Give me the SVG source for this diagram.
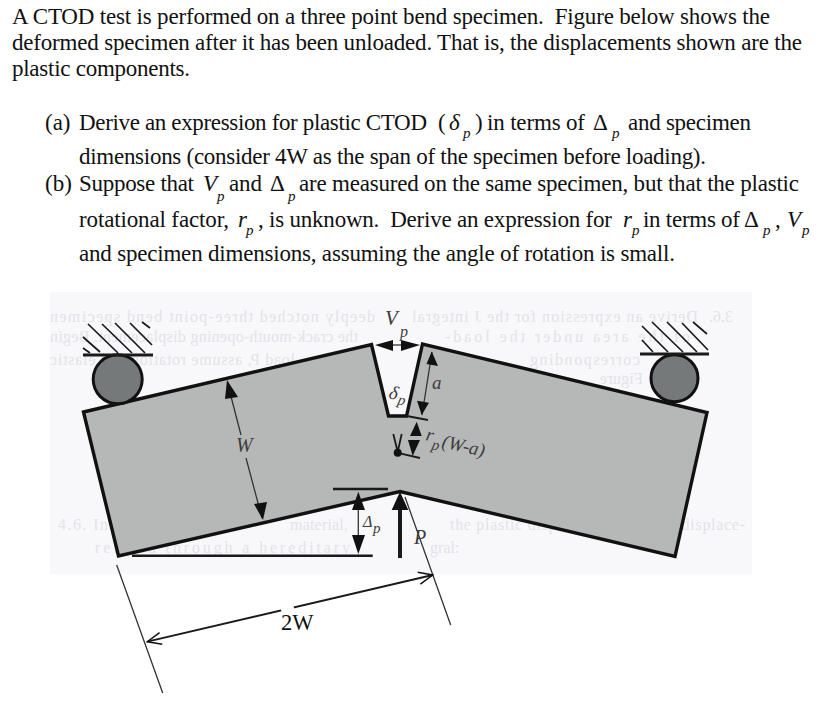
<svg xmlns="http://www.w3.org/2000/svg" width="837" height="722" viewBox="0 0 837 722">
<defs>
<marker id="open" markerWidth="16" markerHeight="14" refX="15" refY="7" orient="auto-start-reverse" markerUnits="userSpaceOnUse"><path d="M1 1L15 7L1 13" fill="none" stroke="#111" stroke-width="1.5"/></marker>
</defs>
<style>
text{font-family:"Liberation Serif","Times New Roman",serif;fill:#111}
.t{font-size:23px}
.s{font-size:15px;font-style:italic}
.i{font-style:italic}
.f{font-style:italic;fill:#3c3c3c}
.g{font-size:16px;fill:#e3e3e8}
.sp{fill:#b6b8b8;stroke:#111;stroke-width:3.4;stroke-linejoin:miter}
.ln{stroke:#1a1a1a;fill:none}
.dim{stroke:#333;fill:none;stroke-width:1.3}
.ah{fill:#111;stroke:none}
.ro{fill:#75797a;stroke:#111;stroke-width:3}
</style>
<rect width="837" height="722" fill="#fff"/>
<rect x="50" y="292" width="702" height="282" fill="#f8f8fa"/>
<g id="show-through">
<text class="g" transform="translate(733 322) scale(-1 1)">3.6.</text>
<text class="g" transform="translate(698 322) scale(-1 1)" textLength="286">Derive an expression for the J integral</text>
<text class="g" transform="translate(375 322) scale(-1 1)" textLength="325">deeply notched three-point bend specimen</text>
<text class="g" transform="translate(690 342) scale(-1 1)" textLength="245">of the area under the load-</text>
<text class="g" transform="translate(358 342) scale(-1 1)" textLength="308">the crack-mouth-opening displacement. Begin</text>
<text class="g" transform="translate(640 365) scale(-1 1)" textLength="110">corresponding</text>
<text class="g" transform="translate(295 365) scale(-1 1)" textLength="245">load P, assume rotation and elastic</text>
<text class="g" transform="translate(643 384) scale(-1 1)" textLength="43">Figure</text>
<text class="g" x="58" y="530" textLength="50">4.6. In</text>
<text class="g" x="290" y="530" textLength="58">material,</text>
<text class="g" x="450" y="530" textLength="295">the plastic displacement and the displace-</text>
<text class="g" x="95" y="553" textLength="255">related through a hereditary</text>
<text class="g" x="430" y="553">gral:</text>
</g>
<g id="prose">
<text class="t" x="12" y="24" xml:space="preserve" textLength="758">A CTOD test is performed on a three point bend specimen.  Figure below shows the</text>
<text class="t" x="12" y="50" textLength="790">deformed specimen after it has been unloaded. That is, the displacements shown are the</text>
<text class="t" x="12" y="76" textLength="178">plastic components.</text>
<text class="t" x="45" y="130">(a)</text>
<text class="t" x="79" y="130" textLength="348">Derive an expression for plastic CTOD</text>
<text class="t" x="438" y="130">(</text>
<text class="t i" x="449" y="130">δ</text><text class="s" x="463" y="138">p</text>
<text class="t" x="475" y="130">)</text>
<text class="t" x="487" y="130" textLength="98">in terms of</text>
<text class="t" x="593" y="130">Δ</text>
<text class="s" x="612" y="138">p</text>
<text class="t" x="628" y="130" textLength="123">and specimen</text>
<text class="t" x="79" y="164" textLength="627">dimensions (consider 4W as the span of the specimen before loading).</text>
<text class="t" x="45" y="191">(b)</text>
<text class="t" x="79" y="191" textLength="115">Suppose that</text>
<text class="t i" x="203" y="191">V</text><text class="s" x="217" y="201">p</text>
<text class="t" x="229" y="191" textLength="33">and</text>
<text class="t" x="270" y="191">Δ</text><text class="s" x="288" y="201">p</text>
<text class="t" x="299" y="191" textLength="500">are measured on the same specimen, but that the plastic</text>
<text class="t" x="79" y="227" textLength="150">rotational factor,</text>
<text class="t i" x="238" y="227">r</text><text class="s" x="246" y="235">p</text>
<text class="t" x="258" y="227" xml:space="preserve" textLength="354">, is unknown.  Derive an expression for</text>
<text class="t i" x="623" y="227">r</text><text class="s" x="632" y="235">p</text>
<text class="t" x="643" y="227" textLength="97">in terms of</text>
<text class="t" x="744" y="227">Δ</text>
<text class="s" x="763" y="235">p</text>
<text class="t" x="775" y="227">,</text>
<text class="t i" x="787" y="227">V</text><text class="s" x="802" y="235">p</text>
<text class="t" x="79" y="261" textLength="596">and specimen dimensions, assuming the angle of rotation is small.</text>
</g>
<g id="specimen">
<path class="sp" d="M83.500 412L371.500 344.500L388.500 416H406.500L422.500 344L707 412.500L675 556.500L400 491.500L118.500 556Z"/>
</g>
<g id="support-left">
<circle class="ro" cx="117.700" cy="379.300" r="24.500"/>
<path class="ln" stroke-width="2.800" d="M83 355H153"/>
<path class="ln" stroke-width="1.700" d="M83 348L90 353M83 337L100 352M88 324L118 353M102 324L132 353M115 323L145 353M130 323L152 345M142 322L150 328"/>
</g>
<g id="support-right">
<circle class="ro" cx="674.500" cy="378.300" r="23.500"/>
<path class="ln" stroke-width="2.800" d="M640 354H709"/>
<path class="ln" stroke-width="1.700" d="M642 340L653 352M642 326L668 352M652 322L683 352M667 322L697 352M682 323L708 350M693 322L707 334"/>
</g>
<g id="connectors">
<path class="dim" d="M228 385L241 435M246 458L262 518"/>
<path class="ah" d="M227 380L238 397L225 399ZM263 520L254 504L267 502Z"/>
<path class="dim" d="M390 345H403"/>
<path class="ah" d="M375 345L393 340V351ZM420 345L401 340V351Z"/>
<path class="dim" d="M432 352L422 415"/>
<path class="ah" d="M431.700 351.500L438 366L426.500 364ZM421.700 415L417 400.700L429 402.700Z"/>
<path class="ln" stroke-width="1.800" d="M406.700 416L428 420"/>
<path class="ah" d="M416.700 421.700L421.700 436H410ZM412.700 456L408 440H420Z"/>
<path class="ln" stroke-width="1.800" d="M396.700 452.700L420 458M393.300 434L397.700 451.700M401.700 434L397.700 451.700"/>
<circle class="ah" cx="397.700" cy="452.700" r="4"/>
<path class="ln" stroke-width="2.400" d="M333 489H388M132 555.700H372.700"/>
<path class="ah" d="M358.300 491.700L365 510H352ZM358.300 554L352 535H365Z"/>
<path class="dim" d="M358.300 510V535"/>
<path class="ln" stroke-width="4" d="M400 505V558"/>
<path class="ah" d="M400 491.700L408.300 510H391.700Z"/>
<path class="dim" d="M405 497L450.700 625M116.700 565L162.700 693"/>
<path class="ln" stroke-width="1.800" marker-start="url(#open)" marker-end="url(#open)" d="M147.300 641.700L432.700 575"/>
<rect x="281" y="606" width="13" height="7" fill="#fff" transform="rotate(-13 287 609)"/>
</g>
<g id="labels">
<text class="f" x="236" y="452" font-size="20">W</text>
<text class="f" x="385" y="325" font-size="21">V</text>
<text class="f" x="400" y="337" font-size="16">p</text>
<text class="f" x="388" y="398" font-size="19" transform="rotate(13 388 398)">δ</text>
<text class="f" x="397" y="404" font-size="15" transform="rotate(13 397 404)">p</text>
<text class="f" x="432" y="389" font-size="19">a</text>
<text class="f" x="425" y="440" font-size="19" transform="rotate(13 425 440)">r</text>
<text class="f" x="431" y="449" font-size="15" transform="rotate(13 431 449)">p</text>
<text class="f" x="441" y="447" font-size="19" transform="rotate(13 441 447)">(W-a)</text>
<text class="f" x="363" y="527" font-size="16">Δ</text>
<text class="f" x="373" y="533" font-size="15">p</text>
<text class="f" x="414" y="544" font-size="20">P</text>
<text x="281" y="630" font-size="22.500">2W</text>
</g>
</svg>
